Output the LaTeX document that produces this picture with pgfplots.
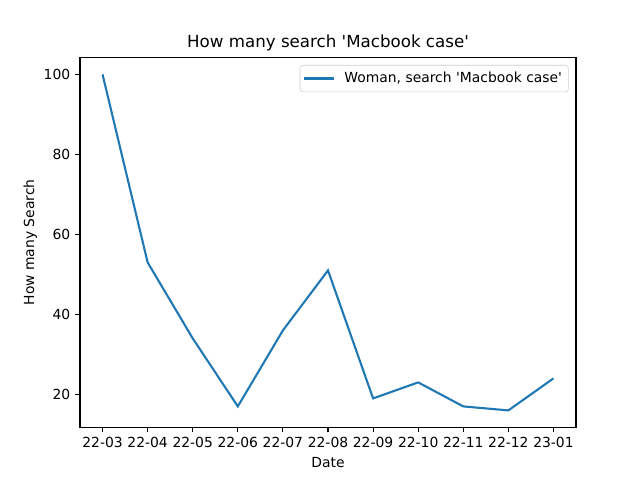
\documentclass[border=0pt]{standalone}
\usepackage{fontspec}
\setmainfont{DejaVu Sans}
\usepackage{pgfplots}
\pgfplotsset{compat=1.18}
\definecolor{tabblue}{HTML}{1F77B4}
\begin{document}
\begin{tikzpicture}
\path[use as bounding box] (0,0) rectangle (460.8pt,345.6pt);
\begin{axis}[
    at={(57.6pt,38.016pt)}, anchor=south west,
    scale only axis,
    width=357.12pt, height=266.11pt,
    xmin=-0.5, xmax=10.5,
    ymin=11.8, ymax=104.2,
    xtick={0,...,10},
    xticklabels={22-03,22-04,22-05,22-06,22-07,22-08,22-09,22-10,22-11,22-12,23-01},
    ytick={20,40,60,80,100},
    tick align=outside,
    xtick pos=bottom, ytick pos=left,
    major tick length=3.5pt,
    tick style={black, line width=0.8pt},
    axis line style={line width=0.8pt},
    ticklabel style={font=\fontsize{10}{12}\selectfont},
    /pgf/number format/assume math mode=true,
    xticklabel style={yshift=-0.5pt},
    title={How many search \textquotesingle Macbook case\textquotesingle},
    title style={font=\fontsize{12}{14}\selectfont, yshift=-5pt},
    xlabel={Date},
    ylabel={How many Search},
    ylabel style={yshift=-2pt},
    label style={font=\fontsize{10}{12}\selectfont},
    legend style={at={(0.985,0.98)}, anchor=north east,
        draw=black!20, rounded corners=2pt, font=\fontsize{10}{12}\selectfont,
        inner xsep=2.5pt, inner ysep=3pt},
    legend cell align=left,
    legend image code/.code={\draw[#1] (0pt,0pt) -- (21pt,0pt); \path (26pt,0pt);},
    legend image post style={line width=1.5pt},
]
\addplot[tabblue, line width=1.5pt] coordinates {
    (0,100) (1,53) (2,34) (3,17) (4,36) (5,51) (6,19) (7,23) (8,17) (9,16) (10,24)
};
\addlegendentry{Woman, search \textquotesingle Macbook case\textquotesingle}
\end{axis}
\end{tikzpicture}
\end{document}
